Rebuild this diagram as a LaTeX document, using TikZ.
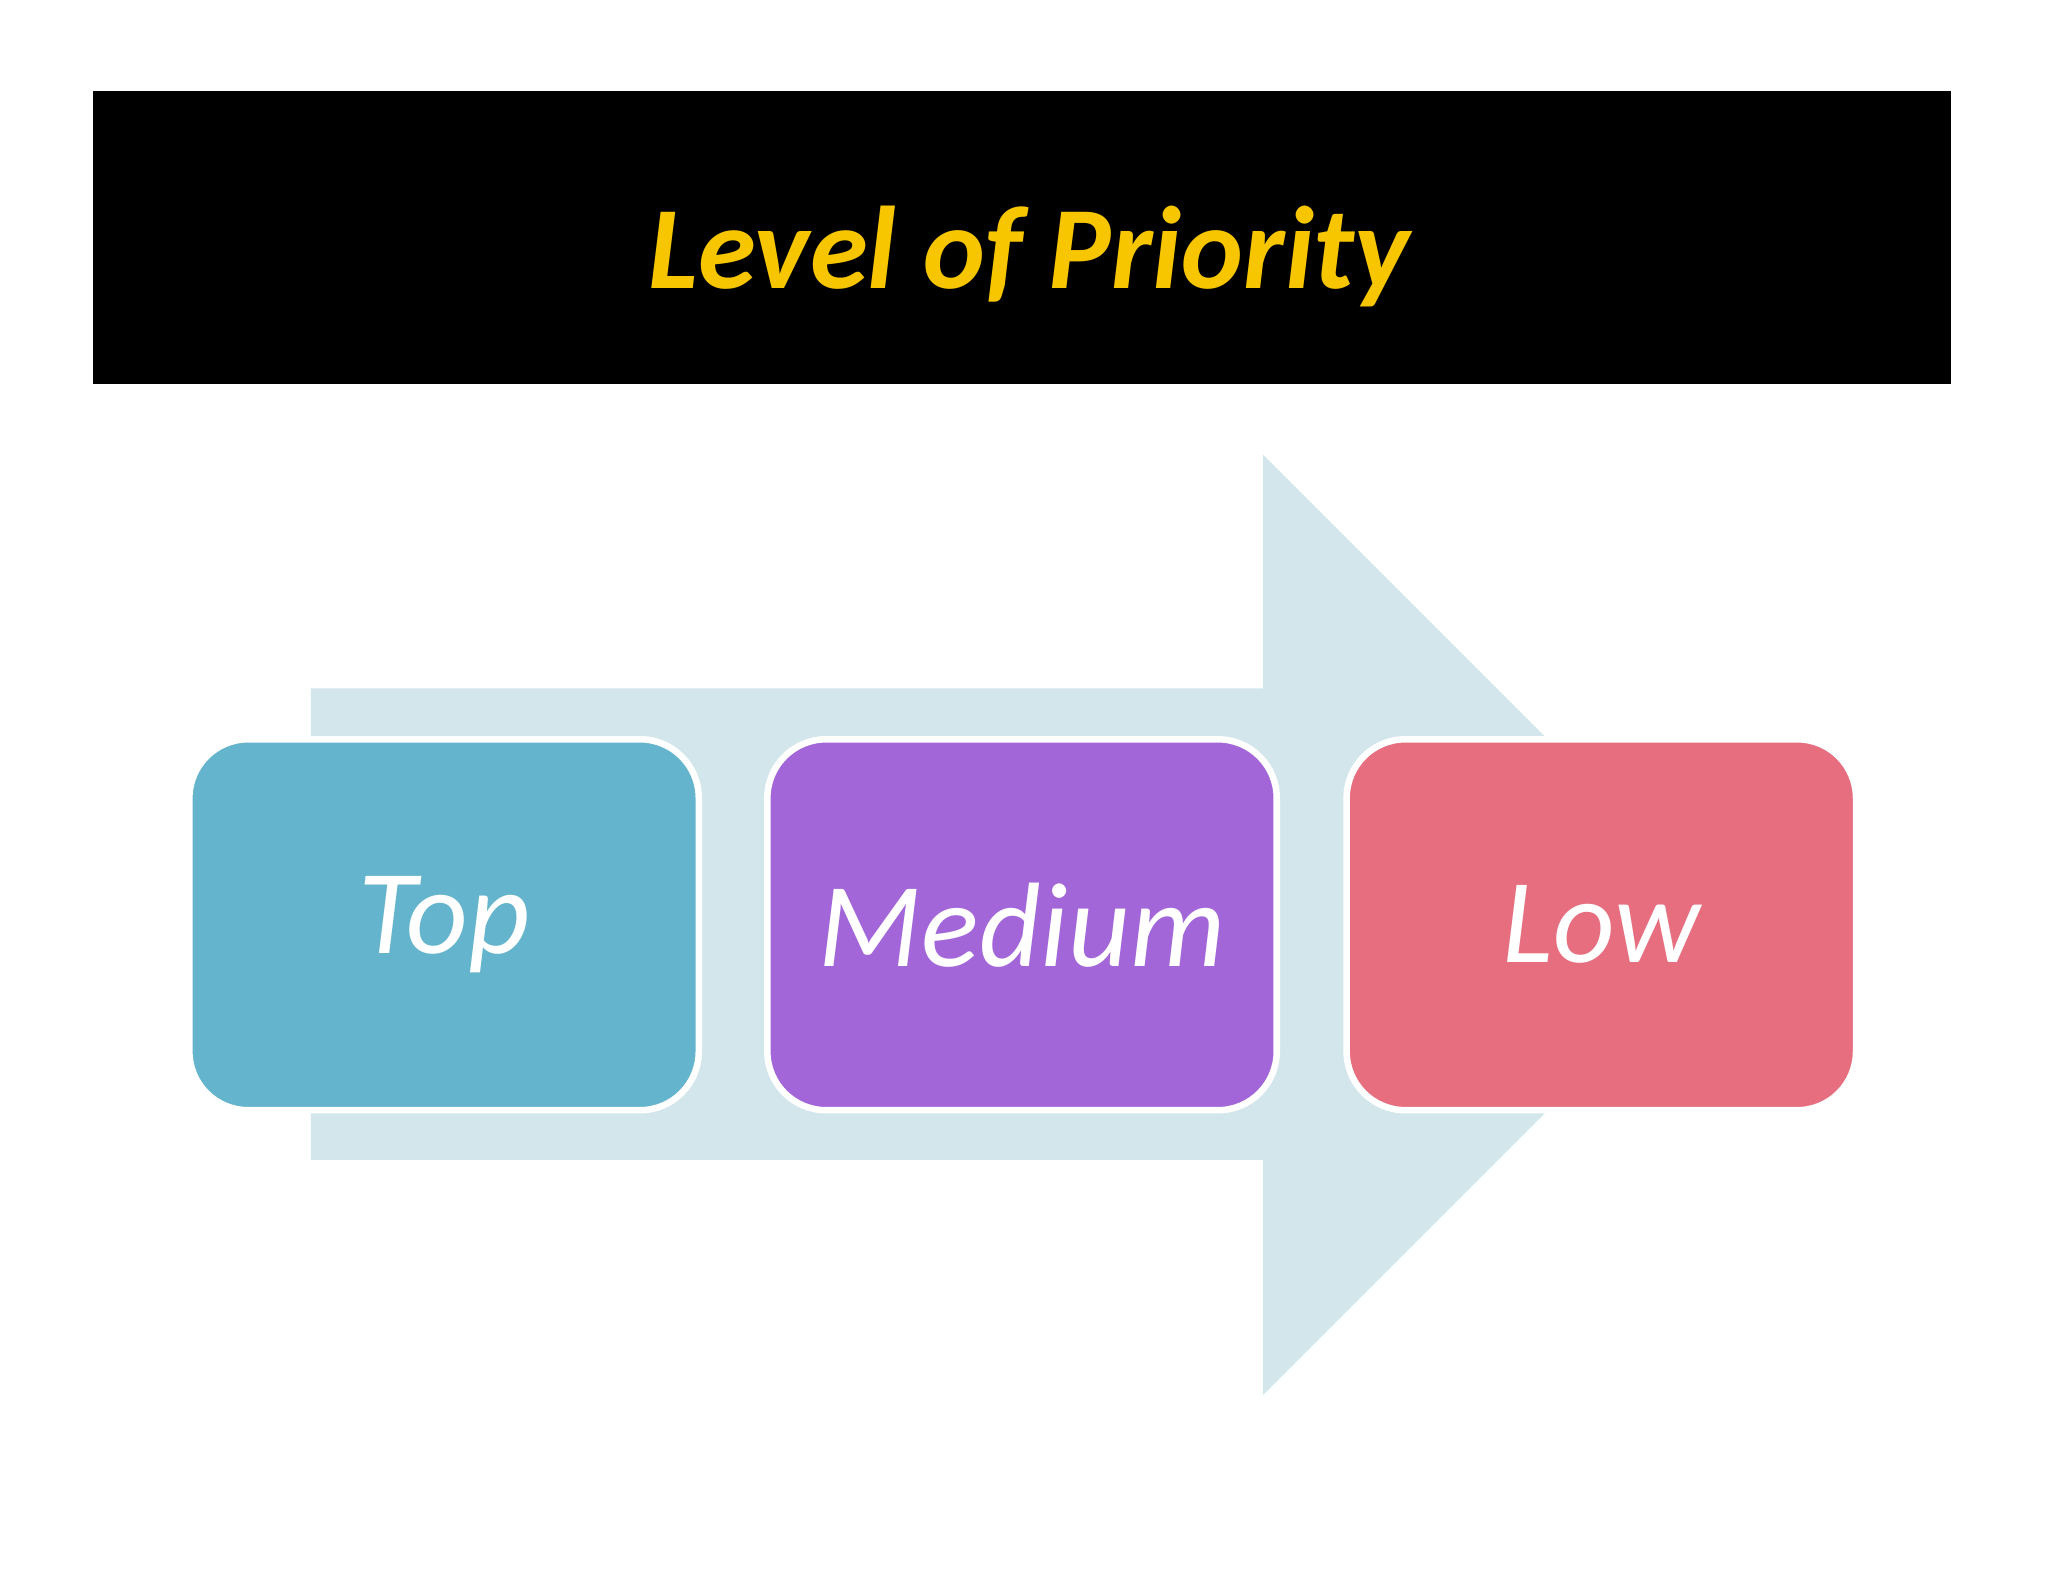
\documentclass[tikz,border=0pt]{standalone}
\usepackage{fontspec}
\setmainfont{Carlito}
\begin{document}
\begin{tikzpicture}[x=1pt,y=-1pt,
  box/.style={draw=white,line width=5pt,rounded corners=45pt,minimum width=390pt,minimum height=284pt,inner sep=0pt,font=\itshape\fontsize{92}{92}\selectfont,text=white}]
\definecolor{topc}{HTML}{63B4CC}
\definecolor{medc}{HTML}{A366D9}
\definecolor{lowc}{HTML}{E66E7F}
\definecolor{arrc}{HTML}{D2E6EC}
\definecolor{gold}{HTML}{F7C600}
\useasboundingbox (0,0) rectangle (1568,1211);
\fill[black] (71,70) rectangle (1494,294);
\node[text=gold,font=\bfseries\itshape\fontsize{90}{90}\selectfont] (title) at (788,196) {Level of Priority};
\fill[arrc] (238,527) -- (967,527) -- (967,348) -- (1327,708) -- (967,1068) -- (967,888) -- (238,888) -- cycle;
\node[box,fill=topc] (top) at (340,708) {Top};
\node[box,fill=medc] (med) at (782.5,708) {Medium};
\node[box,fill=lowc] (low) at (1226,708) {Low};
\end{tikzpicture}
\end{document}
